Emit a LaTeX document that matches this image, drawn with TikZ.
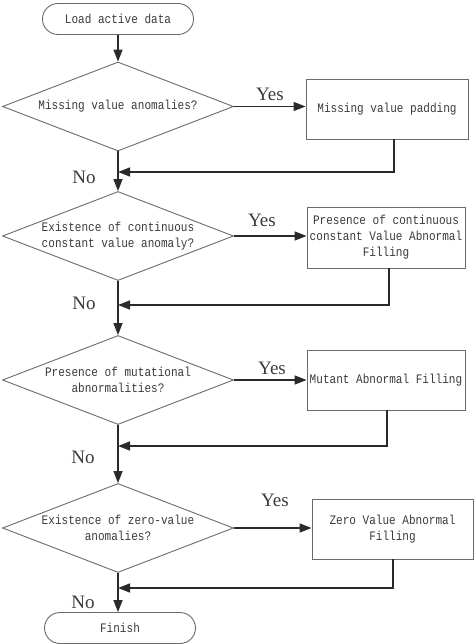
\documentclass[tikz,border=0pt]{standalone}
\usepackage{fontspec}
\setmainfont{Liberation Serif}
\newfontfamily\monof[FakeStretch=0.85]{Liberation Mono}
\usetikzlibrary{arrows.meta,shapes.geometric}
\definecolor{linec}{HTML}{2A2A2A}
\definecolor{shapec}{HTML}{6A6A6A}
\definecolor{textc}{HTML}{3A3A3A}
\tikzset{
  smallfont/.style={font=\monof\fontsize{13}{16}\selectfont, text=textc},
  term/.style={draw=shapec, line width=0.9pt, rounded corners=15.5pt, minimum width=151pt, minimum height=31pt, inner sep=0pt, smallfont},
  dia/.style={draw=shapec, line width=0.9pt, diamond, minimum width=231pt, minimum height=89pt, inner sep=0pt, aspect=2.6},
  procbox/.style={draw=shapec, line width=0.9pt, rectangle, inner sep=0pt, align=center, smallfont},
  txt/.style={align=center, inner sep=0pt, smallfont},
  yn/.style={font=\fontsize{19}{19}\selectfont, text=textc, inner sep=0pt},
  flow/.style={line width=1.5pt, draw=linec, -{Triangle[length=12pt,width=9pt]}},
  plain/.style={line width=1.5pt, draw=linec}
}
\begin{document}
\begin{tikzpicture}[x=1pt,y=-1pt]
\useasboundingbox (0,0) rectangle (474,644);
% terminals
\node[term] (start) at (118,19) {Load active data};
\node[term] (finish) at (120,628) {Finish};
% decisions
\node[dia] (d1) at (118,106.5) {};
\node[txt] (t1) at (d1) {Missing value anomalies?};
\node[dia] (d2) at (118,236) {};
\node[txt] (t2) at (d2) {Existence of continuous\\constant value anomaly?};
\node[dia] (d3) at (118,380) {};
\node[txt] (t3) at (d3) {Presence of mutational\\abnormalities?};
\node[dia] (d4) at (118,528) {};
\node[txt] (t4) at (d4) {Existence of zero-value\\anomalies?};
% process boxes
\node[procbox, minimum width=162pt, minimum height=60pt] (b1) at (387,109) {Missing value padding};
\node[procbox, minimum width=158pt, minimum height=61pt] (b2) at (386,237.5) {Presence of continuous\\constant Value Abnormal\\Filling};
\node[procbox, minimum width=158pt, minimum height=60pt] (b3) at (386,380) {Mutant Abnormal Filling};
\node[procbox, minimum width=161pt, minimum height=60pt] (b4) at (392.5,529) {Zero Value Abnormal\\Filling};
% merge points
\coordinate (m1) at (118,172);
\coordinate (m2) at (118,305);
\coordinate (m3) at (118,446);
\coordinate (m4) at (118,588);
\coordinate (r1) at (394,172);
\coordinate (r2) at (389,305);
\coordinate (r3) at (387,446);
\coordinate (r4) at (393,588);
% main flow
\draw[flow] (start) -- (d1);
\draw[flow] (d1) -- (d2);
\draw[flow] (d2) -- (d3);
\draw[flow] (d3) -- (d4);
\draw[flow] (d4.south) -- (d4.south |- finish.north);
% yes branches
\draw[flow] (d1.east) -- (d1.east -| b1.west);
\draw[flow] (d2.east) -- (d2.east -| b2.west);
\draw[flow] (d3.east) -- (d3.east -| b3.west);
\draw[flow] (d4.east) -- (d4.east -| b4.west);
% returns
\draw[flow] (r1 |- b1.south) -- (r1) -- (m1);
\draw[flow] (r2 |- b2.south) -- (r2) -- (m2);
\draw[flow] (r3 |- b3.south) -- (r3) -- (m3);
\draw[flow] (r4 |- b4.south) -- (r4) -- (m4);
% labels
\node[yn] (y1) at (270,94) {Yes};
\node[yn] (y2) at (262,220) {Yes};
\node[yn] (y3) at (272,368) {Yes};
\node[yn] (y4) at (275,500) {Yes};
\node[yn] (n1) at (84,177) {No};
\node[yn] (n2) at (84,303) {No};
\node[yn] (n3) at (83,457) {No};
\node[yn] (n4) at (83,602) {No};
\end{tikzpicture}
\end{document}
